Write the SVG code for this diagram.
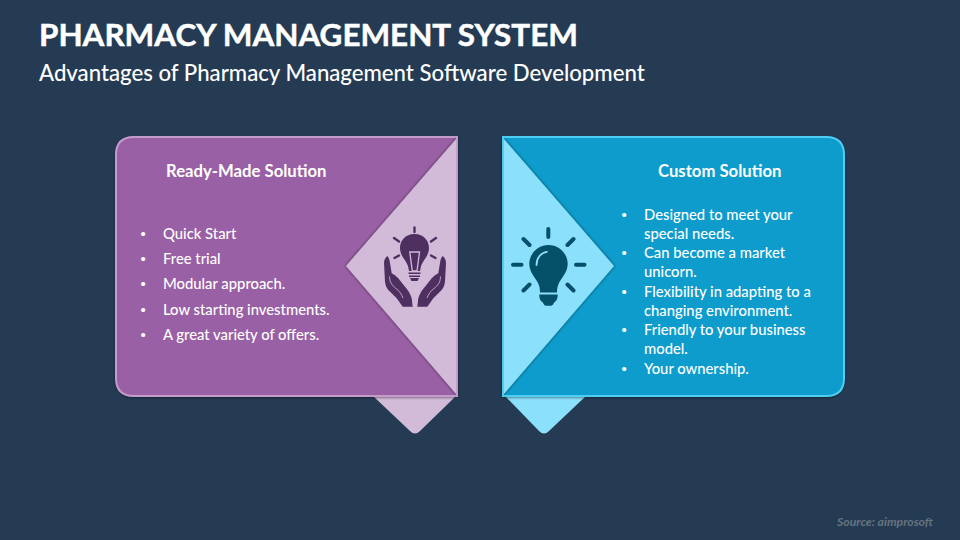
<svg xmlns="http://www.w3.org/2000/svg" width="960" height="540" viewBox="0 0 960 540">
<style>
text{font-family:Lato,"Open Sans","Liberation Sans",sans-serif;fill:#fff}
.t{font-size:31.400px;font-weight:700;stroke:#fff;stroke-width:.5}
.s{font-size:22.200px;font-weight:500}
.h{font-size:16.700px;font-weight:700}
.b{font-size:14.800px;font-weight:500}
.d{font-family:"Liberation Sans",sans-serif;font-size:15px}
.src{font-size:12.200px;font-weight:700;font-style:italic;fill:#66747f}
.ray{stroke-linecap:round;fill:none}
</style>
<defs>
<filter id="sh" x="-20%" y="-20%" width="140%" height="140%"><feDropShadow dx="0" dy="0" stdDeviation="1.600" flood-color="#000" flood-opacity=".7"/></filter>
<filter id="cs" x="-5%" y="-5%" width="110%" height="110%"><feDropShadow dx="0" dy="1" stdDeviation="1.200" flood-color="#000" flood-opacity=".4"/></filter>
</defs>
<rect width="960" height="540" fill="#253b54"/>
<text class="t" x="39" y="46">PHARMACY MANAGEMENT SYSTEM</text>
<text class="s" x="39" y="80.500">Advantages of Pharmacy Management Software Development</text>

<g id="left-card">
<path d="M373 396H456L420 431Q415 436 410 431Z" fill="#d2bbd9"/>
<path d="M457 137V396H134Q116 396 116 378V155Q116 137 134 137Z" fill="#9a60a5" stroke="#c49ccb" stroke-width="2" filter="url(#cs)"/>
<path d="M457 138L346 266L457 395Z" fill="#d2bbd9" filter="url(#sh)"/>
<path d="M457 137V396" stroke="#c49ccb" stroke-width="2"/>
<text class="h" x="166" y="177">Ready-Made Solution</text>
<g class="b">
<text class="d" x="140.400" y="239">•</text><text x="163" y="239">Quick Start</text>
<text class="d" x="140.400" y="264">•</text><text x="163" y="264">Free trial</text>
<text class="d" x="140.400" y="289">•</text><text x="163" y="289">Modular approach.</text>
<text class="d" x="140.400" y="315">•</text><text x="163" y="315">Low starting investments.</text>
<text class="d" x="140.400" y="340">•</text><text x="163" y="340">A great variety of offers.</text>
</g>
<g id="left-icon" fill="#4f2f60">
<path d="M414.500 234C405 234 400 241 400 248C400 256 406 260 408 266L409 271H420L421 266C423 260 429 256 429 248C429 241 424 234 414.500 234Z"/>
<path d="M408.500 272.500H420.500V274H408.500ZM409 275.500H420V277H409ZM410 278H419L417.500 281H411.500Z"/>
<path d="M409.800 252H419.500L417 271H412.300Z" fill="none" stroke="#d2bbd9" stroke-width="1.300"/>
<g stroke="#4f2f60" class="ray" stroke-width="2.400"><path d="M414.500 227.500V232M394 238L399 241.500M436 238L431 241.500M394.500 258L399 255.500M435.500 258L431 255.500"/></g>
<path d="M387.300 256C385 258 384 260 384 263L385 281.700C385.500 285 386.500 288 388.300 290L396.700 298.300L402.700 306.700H412.700L411.700 298.300C410 293 408 290 405 286.700L398.300 278.300C396 276 394 274.500 391.700 273.300L390 263C389.500 259 388.500 257 387.300 256Z"/>
<path d="M442.700 256C445 258 446 260 446 263L445 281.700C444.500 285 443.500 288 441.700 290L433.300 298.300L427.300 306.700H417.300L418.300 298.300C420 293 422 290 425 286.700L431.700 278.300C434 276 436 274.500 438.300 273.300L440 263C440.500 259 441.500 257 442.700 256Z"/>
<path d="M389.500 276.500C389.500 282 392 285.500 396 288.500C399 290.500 401.500 294 403 298" fill="none" stroke="#d2bbd9" stroke-width=".8"/>
<path d="M440.500 276.500C440.500 282 438 285.500 434 288.500C431 290.500 428.500 294 427 298" fill="none" stroke="#d2bbd9" stroke-width=".8"/>
</g>
</g>

<g id="right-card">
<path d="M505 396H586L549 431Q544 436 539 431Z" fill="#8be0fb"/>
<path d="M503 137V396H826Q844 396 844 378V155Q844 137 826 137Z" fill="#089ccc" stroke="#4fcdf2" stroke-width="2" filter="url(#cs)"/>
<path d="M503 138L614 266L503 395Z" fill="#8be0fb" filter="url(#sh)"/>
<path d="M503 137V396" stroke="#4fcdf2" stroke-width="2"/>
<text class="h" x="658" y="177">Custom Solution</text>
<g class="b">
<text class="d" x="621.400" y="220">•</text><text x="644" y="220">Designed to meet your</text>
<text x="644" y="239">special needs.</text>
<text class="d" x="621.400" y="258">•</text><text x="644" y="258">Can become a market</text>
<text x="644" y="277">unicorn.</text>
<text class="d" x="621.400" y="297">•</text><text x="644" y="297">Flexibility in adapting to a</text>
<text x="644" y="316">changing environment.</text>
<text class="d" x="621.400" y="335">•</text><text x="644" y="335">Friendly to your business</text>
<text x="644" y="354">model.</text>
<text class="d" x="621.400" y="374">•</text><text x="644" y="374">Your ownership.</text>
</g>
<g id="right-icon" fill="#045068">
<path d="M548.500 245C538 245 529.300 253.500 529.300 264C529.300 272 535 277 538 283C539.500 286 540 289 540 292.500H557C557 289 557.500 286 559 283C562 277 567.700 272 567.700 264C567.700 253.500 559 245 548.500 245Z"/>
<path d="M539.300 294.500H557.700C557.700 299 556.500 301 554 302.500C553.500 305 552 305.800 550 305.800H547C545 305.800 543.500 305 543 302.500C540.500 301 539.300 299 539.300 294.500Z"/>
<path d="M536.500 265C536.500 258 541 252.500 547 251.800" fill="none" stroke="#8be0fb" stroke-width="1.800" stroke-linecap="round"/>
<g stroke="#045068" class="ray" stroke-width="4"><path d="M548.300 229V237M523.500 239L529.500 245M573.500 239L567.500 245M513 264.700H521.500M576 264.700H584.500M523.500 290.500L529.500 284.500M573.500 290.500L567.500 284.500"/></g>
</g>
</g>
<text class="src" x="837" y="526">Source: aimprosoft</text>
</svg>
